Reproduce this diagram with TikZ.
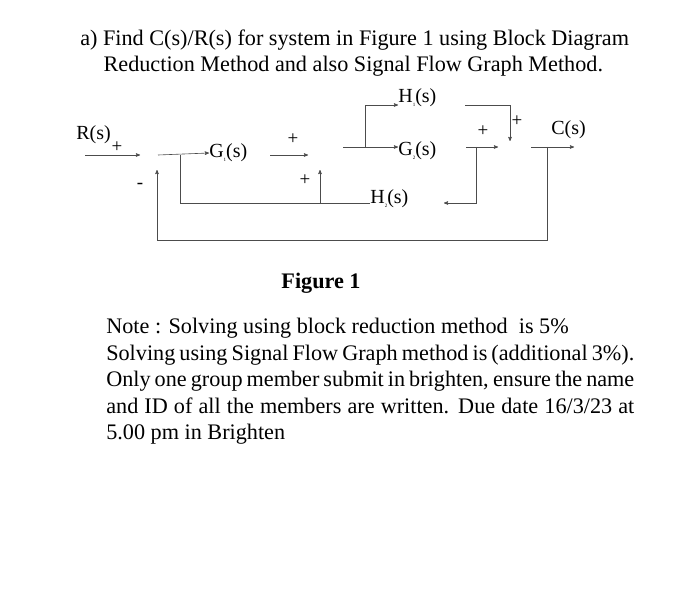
\documentclass[tikz,border=0pt]{standalone}
\usepackage{fontspec}
\setmainfont{Liberation Serif}
\usetikzlibrary{arrows}

\begin{document}
\begin{tikzpicture}[x=1pt,y=-1pt,>=stealth',semithick,draw=black!70,
    every node/.style={inner sep=0pt},
    blk/.style={font=\fontsize{20}{22}\selectfont,anchor=west},
    sgn/.style={font=\fontsize{19}{19}\selectfont}]
  \useasboundingbox (0,0) rectangle (700,604);
  % heading
  \node[anchor=west,font=\fontsize{22.2}{26}\selectfont,align=left] (q) at (80,53)
    {a) Find C(s)/R(s) for system in Figure 1 using Block Diagram\\
     \hspace{1.05em}Reduction Method and also Signal Flow Graph Method.};
  % blocks
  \node[blk] (R)  at (76,135)  {R(s)};
  \node[blk] (G1) at (209,153) {G\raisebox{-0.45ex}{\tiny1}(s)};
  \node[blk] (H1) at (398,98)  {H\raisebox{-0.45ex}{\tiny1}(s)};
  \node[blk] (G2) at (398,151) {G\raisebox{-0.45ex}{\tiny2}(s)};
  \node[blk] (H2) at (370,199) {H\raisebox{-0.45ex}{\tiny2}(s)};
  \node[blk] (C)  at (551,130) {C(s)};
  % junctions
  \coordinate (r0) at (85,155);   \coordinate (r1) at (140,155);
  \coordinate (s1) at (158,155);  \coordinate (b1) at (180,155);
  \coordinate (g1o) at (270,155); \coordinate (s2) at (308,155);
  \coordinate (s2b) at (320,170);
  \coordinate (s3) at (343,147);  \coordinate (b2) at (365,147);
  \coordinate (g2o) at (466,147); \coordinate (s4) at (498,147);
  \coordinate (b3) at (476,147);
  \coordinate (h1o) at (465,105); \coordinate (s5) at (510,141);
  \coordinate (c0) at (531,147);  \coordinate (c1) at (574,147);
  \coordinate (b4) at (547,147);  \coordinate (fb) at (157,170);
  % forward path
  \draw[->] (r0) -- (r1);
  \draw[->] (s1) -- (G1.west);
  \draw[->] (g1o) -- (s2);
  \draw[->] (s3) -- (G2.west |- s3);
  \draw[->] (b2) |- (H1.west |- 0,105);
  \draw[->] (g2o) -- (s4);
  \draw[->] (h1o) -| (s5);
  \draw[->] (c0) -- (c1);
  % loops
  \draw (b1) |- (H2.west |- 0,203);
  \draw[->] (s2b |- 0,203) -- (s2b);
  \draw[->] (b3) |- (444,203);
  \draw[->] (b4) -- (547,240) -| (fb);
  % signs
  \node[sgn] (p1) at (117,147) {+};
  \node[sgn] (p2) at (293,139) {+};
  \node[sgn] (p3) at (305,180) {+};
  \node[sgn] (p4) at (483,131) {+};
  \node[sgn] (p5) at (517,121) {+};
  \node[sgn] (m1) at (140,186) {-};
  % caption and note
  \node[font=\fontsize{22.2}{26}\selectfont\bfseries] (fig) at (321,283) {Figure 1};
  \node[anchor=north west,text width=528pt,align=justify,
        font=\fontsize{22.2}{26.5}\selectfont] (note) at (106,318)
    {Note : Solving using block reduction method\ \ is 5\%\\
     Solving using Signal Flow Graph method is (additional 3\%). Only one group member submit in brighten, ensure the name and ID of all the members are written. Due date 16/3/23 at 5.00 pm in Brighten};
\end{tikzpicture}
\end{document}
